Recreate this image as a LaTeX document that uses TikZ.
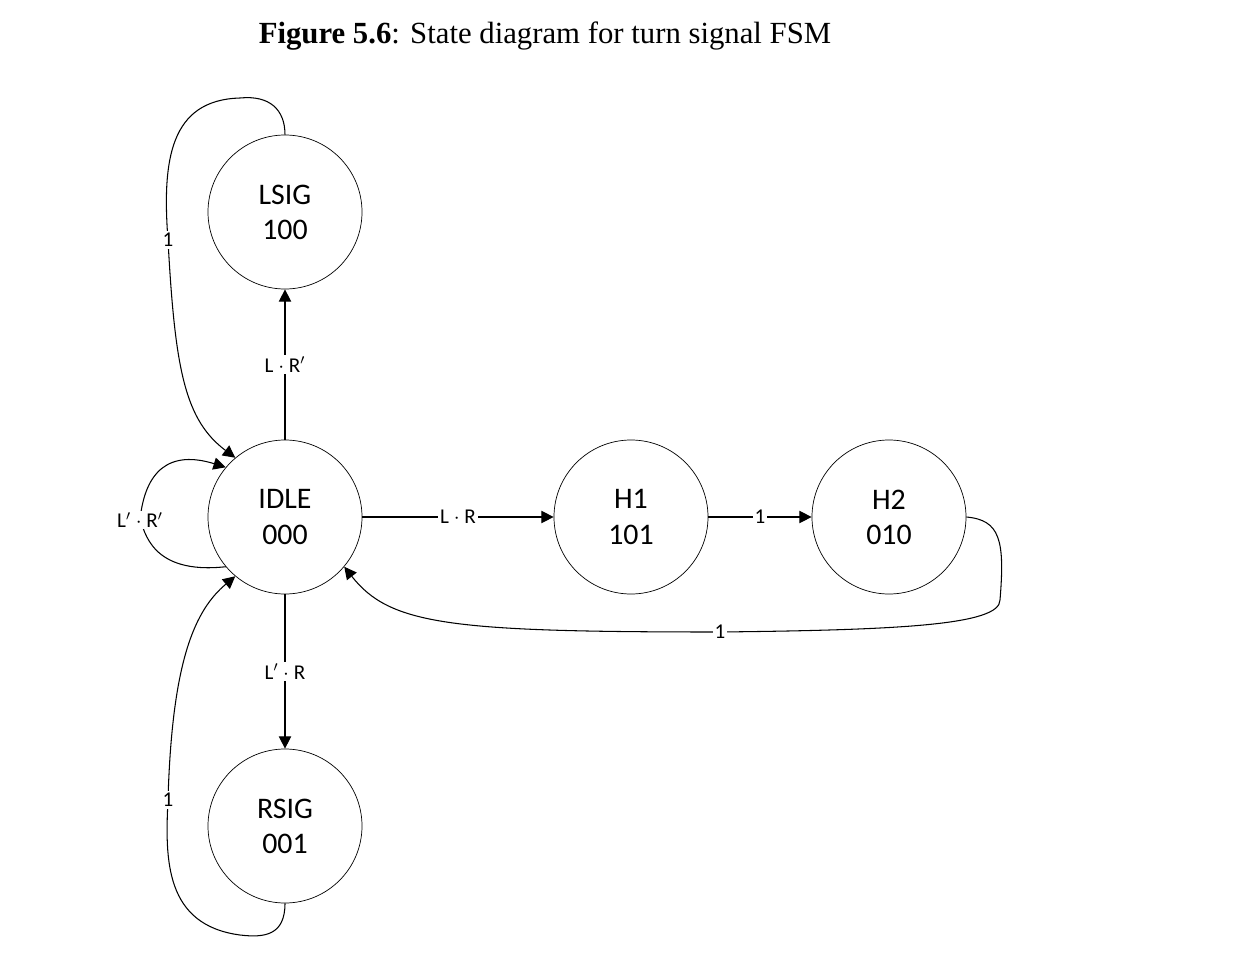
\documentclass[tikz,border=0pt]{standalone}
\usepackage{fontspec}
\setmainfont{Liberation Serif}
\newfontfamily\statefont{Carlito}
\usetikzlibrary{arrows.meta}
\begin{document}
\begin{tikzpicture}[x=0.02cm,y=-0.02cm,
  state/.style={draw,circle,minimum size=154*0.02cm,inner sep=0pt,align=center,
    font=\statefont\fontsize{17}{22}\selectfont},
  edge/.style={draw,-{Triangle[length=7pt,width=7pt]},line width=0.6pt},
  lbl/.style={fill=white,inner sep=1pt,font=\statefont\fontsize{12}{13}\selectfont}]
\useasboundingbox (0,0) rectangle (1252,970);
\node[font=\fontsize{17.5}{19}\selectfont] (title) at (545,36) {\textbf{Figure 5.6}: State diagram for turn signal FSM};
\node[state] (lsig) at (285,212) {LSIG\\[-2pt]100};
\node[state] (idle) at (285,517) {IDLE\\[-2pt]000};
\node[state] (h1) at (631,517) {H1\\[-2pt]101};
\node[state] (h2) at (889,517) {H2\\[-2pt]010};
\node[state] (rsig) at (285,826) {RSIG\\[-2pt]001};
\draw[edge] (idle.north) -- node[lbl,pos=0.5] {L $\cdot$ R$'$} (lsig.south);
\draw[edge] (idle.south) -- node[lbl,pos=0.5] {L$'$ $\cdot$ R} (rsig.north);
\draw[edge] (idle.east) -- node[lbl,pos=0.5] {L $\cdot$ R} (h1.west);
\draw[edge] (h1.east) -- node[lbl,pos=0.5] {1} (h2.west);
\coordinate (c1) at (1000,600);
\draw[edge] (h2.east) .. controls (1000,520) and (1005,540) .. (c1)
  .. controls (1000,625) and (900,630) .. (720,632) node[lbl] {1}
  .. controls (450,632) and (390,625) .. (idle.-40);
\draw[edge] (lsig.north) .. controls (285,110) and (270,95) .. (240,98)
  .. controls (170,100) and (162,160) .. (168,240) node[lbl] {1}
  .. controls (175,370) and (185,420) .. (idle.130);
\draw[edge] (rsig.south) .. controls (285,935) and (265,938) .. (240,935)
  .. controls (165,925) and (165,860) .. (168,800) node[lbl] {1}
  .. controls (172,660) and (195,610) .. (idle.-130);
\draw[edge] (idle.-140) .. controls (150,575) and (145,530) .. (140,520) node[lbl] {L$'$ $\cdot$ R$'$}
  .. controls (145,470) and (170,450) .. (idle.140);
\end{tikzpicture}
\end{document}
